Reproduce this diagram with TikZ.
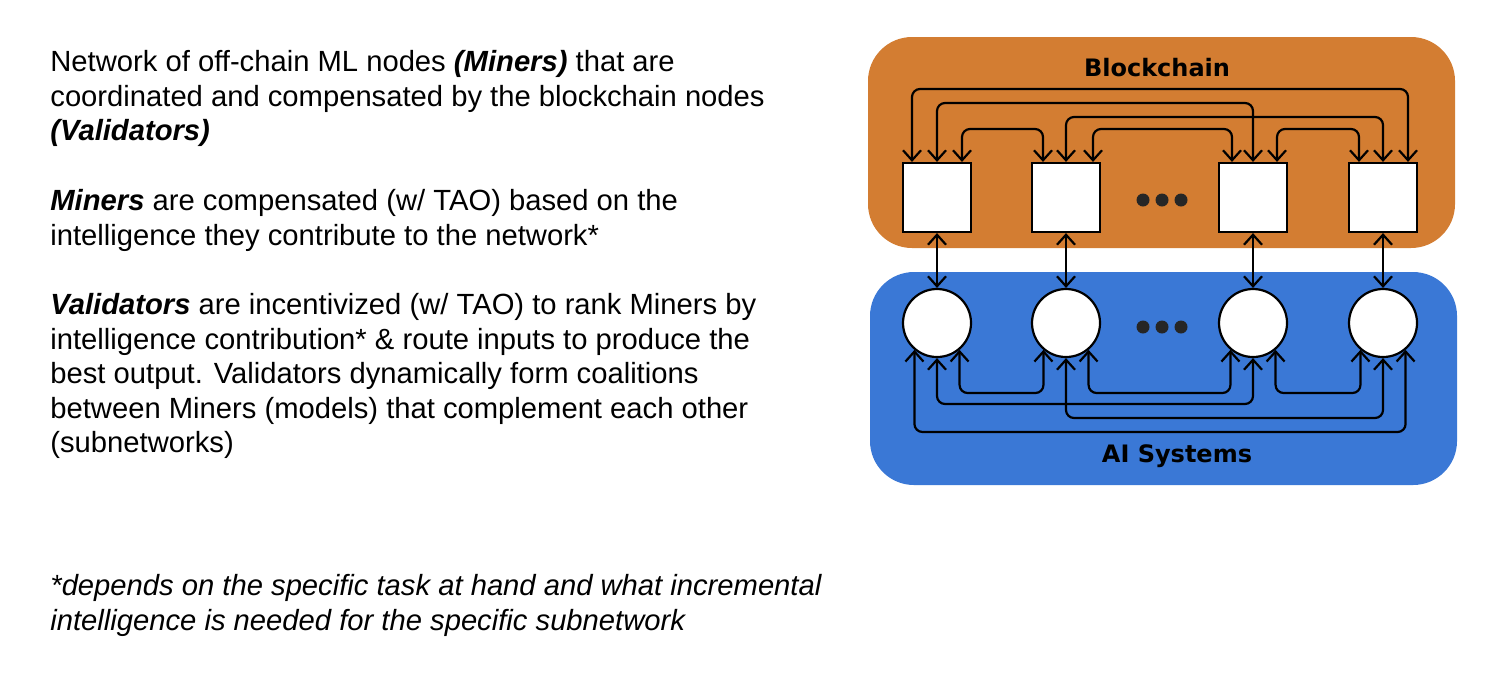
\documentclass[tikz,border=0pt]{standalone}
\usepackage{fontspec}
\setmainfont{Liberation Sans}
\newfontfamily\djvfont{DejaVu Sans}
\usetikzlibrary{calc,arrows.meta}
\definecolor{borange}{RGB}{211,125,50}
\definecolor{bblue}{RGB}{58,120,214}
\begin{document}
\begin{tikzpicture}[x=0.5pt,y=-0.5pt,
  sq/.style={draw,fill=white,line width=1.1pt,minimum width=34pt,minimum height=34.5pt,inner sep=0pt},
  ci/.style={draw,fill=white,circle,line width=1.1pt,minimum size=34pt,inner sep=0pt},
  con/.style={line width=1.1pt,{Straight Barb[length=5pt,width=9pt]}-{Straight Barb[length=5pt,width=9pt]},rounded corners=4pt},
  para/.style={anchor=north west,align=left,inner sep=0pt,font=\fontsize{14.6}{17.3}\selectfont},
  lbl/.style={font=\djvfont\bfseries\fontsize{12}{14}\selectfont},
  dot/.style={circle,fill=black!85,inner sep=0pt,minimum size=6.5pt}]
\useasboundingbox (0,0) rectangle (1486,692);
\fill[borange] (868,37) [rounded corners=22pt] rectangle (1455,248);
\fill[bblue] (870,272) [rounded corners=22pt] rectangle (1457,485);
\node[lbl] (bc) at (1157,68) {Blockchain};
\node[lbl] (ai) at (1177,456) {AI Systems};
\foreach \i/\x in {1/937,2/1066,3/1253,4/1383}{
  \node[sq] (s\i) at (\x,197.5) {};
  \node[ci] (c\i) at (\x,323) {};
  \draw[con] (s\i) -- (c\i);
}
\foreach \j/\x in {1/1143,2/1162,3/1181}{
  \node[dot] (da\j) at (\x,200) {};
  \node[dot] (db\j) at (\x,327) {};
}
% top connectors
\draw[con] ($(s1.north)+(-25,0)$) |- (1160,89) -| ($(s4.north)+(25,0)$);
\draw[con] (s1.north) |- (1100,103) -| (s3.north);
\draw[con] (s2.north) |- (1200,117) -| (s4.north);
\draw[con] ($(s1.north)+(25,0)$) |- (1000,129) -| ($(s2.north)+(-23,0)$);
\draw[con] ($(s2.north)+(27,0)$) |- (1160,129) -| ($(s3.north)+(-21,0)$);
\draw[con] ($(s3.north)+(24,0)$) |- (1320,129) -| ($(s4.north)+(-24,0)$);
% bottom connectors
\draw[con] (c1.-50) |- (1000,393) -| (c2.-130);
\draw[con] (c2.-50) |- (1160,393) -| (c3.-130);
\draw[con] (c3.-50) |- (1320,393) -| (c4.-130);
\draw[con] (c1.south) |- (1100,404) -| (c3.south);
\draw[con] (c2.south) |- (1200,418) -| (c4.south);
\draw[con] (c1.-130) |- (1160,432) -| (c4.-50);
% text
\node[para] (p1) at (50,50) {Network of off-chain ML nodes \textbf{\textit{(Miners)}} that are\\coordinated and compensated by the blockchain nodes\\\textbf{\textit{(Validators)}}};
\node[para] (p2) at (50,189) {\textbf{\textit{Miners}} are compensated (w/ TAO) based on the\\intelligence they contribute to the network*};
\node[para] (p3) at (50,293) {\textbf{\textit{Validators}} are incentivized (w/ TAO) to rank Miners by\\intelligence contribution* \& route inputs to produce the\\best output. Validators dynamically form coalitions\\between Miners (models) that complement each other\\(subnetworks)};
\node[para,font=\itshape\fontsize{14.6}{17.3}\selectfont] (p4) at (50,574) {*depends on the specific task at hand and what incremental\\intelligence is needed for the specific subnetwork};
\end{tikzpicture}
\end{document}
